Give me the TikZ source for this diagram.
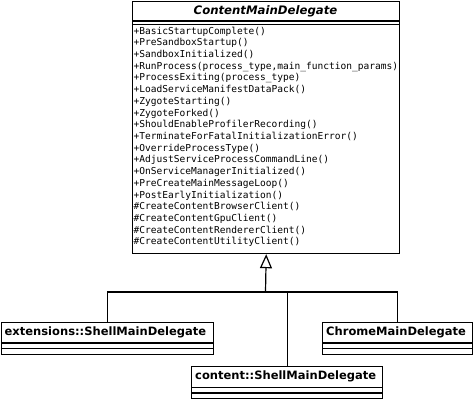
\documentclass[tikz,border=0pt]{standalone}
\usepackage{fontspec}
\setmainfont{DejaVu Sans}
\setmonofont{DejaVu Sans Mono}
\usetikzlibrary{arrows.meta}
\tikzset{
  classbox/.style={draw=black, line width=1.4pt, rectangle, inner sep=0pt, anchor=north west, fill=white},
  sepline/.style={line width=1.2pt},
  conn/.style={line width=1.2pt},
  inherit/.style={conn, -{Triangle[open, width=12pt, length=14pt, line width=1.2pt]}},
  titletext/.style={font=\fontsize{11.7}{13}\selectfont\bfseries\itshape, inner sep=0pt},
  nametext/.style={font=\fontsize{11.5}{13}\selectfont\bfseries, inner sep=0pt, anchor=west},
  methodtext/.style={font=\fontsize{9.55}{11.72}\selectfont\ttfamily, inner sep=0pt, align=left, anchor=north west}
}
\begin{document}
\begin{tikzpicture}[x=1pt,y=-1pt]
\useasboundingbox (0,0) rectangle (474,400);
% top class
\node[classbox, minimum width=267pt, minimum height=252pt] (cmd) at (132,0.8) {};
\node[titletext] (cmdt) at (265.5,11) {ContentMainDelegate};
\draw[sepline] (132,21) -- (399,21);
\draw[sepline] (132,24.5) -- (399,24.5);
\node[methodtext] (cmdm) at (133.5,26.5) {+BasicStartupComplete()\\
+PreSandboxStartup()\\
+SandboxInitialized()\\
+RunProcess(process\_type,main\_function\_params)\\
+ProcessExiting(process\_type)\\
+LoadServiceManifestDataPack()\\
+ZygoteStarting()\\
+ZygoteForked()\\
+ShouldEnableProfilerRecording()\\
+TerminateForFatalInitializationError()\\
+OverrideProcessType()\\
+AdjustServiceProcessCommandLine()\\
+OnServiceManagerInitialized()\\
+PreCreateMainMessageLoop()\\
+PostEarlyInitialization()\\
\#CreateContentBrowserClient()\\
\#CreateContentGpuClient()\\
\#CreateContentRendererClient()\\
\#CreateContentUtilityClient()};
% derived classes
\node[classbox, minimum width=212pt, minimum height=32pt] (ext) at (0.8,322) {};
\node[nametext] (extt) at (4.5,332.5) {extensions::ShellMainDelegate};
\draw[sepline] (0.8,343) -- (212.8,343);
\draw[sepline] (0.8,348.5) -- (212.8,348.5);

\node[classbox, minimum width=150pt, minimum height=32pt] (chr) at (322,322) {};
\node[nametext] (chrt) at (326,332.5) {ChromeMainDelegate};
\draw[sepline] (322,343) -- (472,343);
\draw[sepline] (322,348.5) -- (472,348.5);

\node[classbox, minimum width=191pt, minimum height=32pt] (csh) at (191,366) {};
\node[nametext] (csht) at (195,376.5) {content::ShellMainDelegate};
\draw[sepline] (191,387.5) -- (382,387.5);
\draw[sepline] (191,393) -- (382,393);
% connectors
\coordinate (j) at (265.5,292);
\draw[conn] (ext.north) |- (j);
\draw[conn] (chr.north) |- (j);
\draw[conn] (csh.north) |- (j);
\draw[inherit] (j) -- (cmd.south);
\end{tikzpicture}
\end{document}
